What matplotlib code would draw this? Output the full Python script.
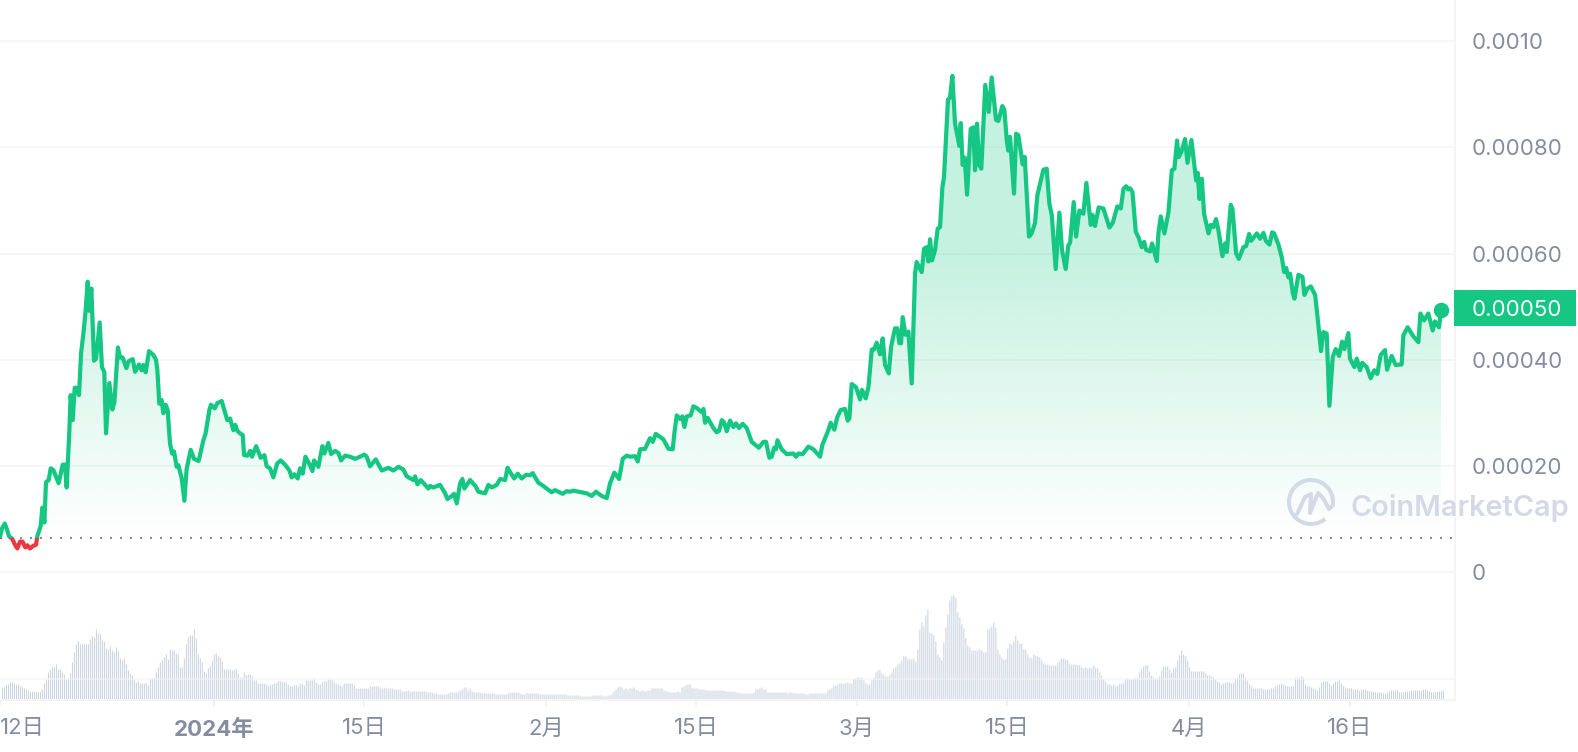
import numpy as np
import matplotlib
matplotlib.use('Agg')
import matplotlib.pyplot as plt
from matplotlib.patches import Arc, Rectangle, Polygon

# days counted from 12 Dec 2023, price in units of 1e-5
price_day = [
    0.09, .28, .53, .71, .93, 1.21, 1.49, 1.71, 1.96, 2.19, 2.45, 2.64, 2.89, 3.19, 3.45, 3.57, 3.89, 4.04, 4.23, 4.38,
    4.63, 4.82, 5.07, 5.56, 5.94, 6.15, 6.31, 6.56, 6.68, 6.87, 7.06, 7.24, 7.46, 7.65, 7.87, 8.08, 8.27, 8.42, 8.61, 8.86,
    9.05, 9.39, 9.6, 9.82, 9.98, 10.29, 10.57, 10.76, 11.09, 11.29, 11.53, 11.88, 12.09, 12.47, 12.69, 13.06, 13.29, 13.46, 13.68, 13.99,
    14.39, 14.64, 14.77, 14.95, 15.17, 15.33, 15.54, 15.73, 15.95, 16.14, 16.32, 16.57, 16.73, 17.04, 17.29, 17.5, 17.88, 18.19, 18.62, 19.06,
    19.27, 19.62, 19.77, 20.12, 20.36, 20.77, 21.29, 21.55, 21.86, 22.04, 22.23, 22.48,
    22.73, 22.86, 23.17, 23.42, 23.6, 23.98, 24.41, 24.75, 24.97, 25.28, 25.59, 25.94, 26.28, 26.68, 27.09, 27.3, 27.55, 27.86, 28.08, 28.33,
    28.58, 29.01, 29.23, 29.39, 29.79, 30.16, 30.35, 30.72, 30.97, 31.35, 31.66, 31.91, 32.28, 32.75, 33.21, 33.68, 34.08, 34.3, 34.61, 35.14,
    35.7, 36.32, 36.79, 37.26, 37.72, 38.03, 38.66, 38.81, 39.03, 39.34, 39.74, 40.05, 40.21, 40.52, 41.14, 41.61, 41.83, 42.23, 42.45, 42.7,
    43.01, 43.23, 43.41, 43.94, 44.47, 44.72, 45.34, 45.65, 45.96, 46.43, 46.74, 47.21, 47.43, 48.05, 48.39, 48.76, 49.17, 49.54,
    49.78, 50.31, 50.62, 51.55, 51.87, 52.58, 52.95, 53.27, 53.58, 54.35, 54.82, 55.29, 55.69, 56.22, 56.69, 57, 57.4, 57.84, 58.18, 58.55,
    58.86, 59.33, 59.58, 59.8, 60.26, 60.73, 60.98, 61.26, 61.97, 62.44, 62.84, 63, 63.22, 63.53, 63.75, 63.93, 64.15, 64.52, 64.77, 65.08,
    65.55, 65.71, 65.86, 66.11, 66.64, 66.95, 67.17, 67.42, 67.63, 67.88, 68.19, 68.5, 68.75, 69.03, 69.37, 69.75, 70.21, 70.87, 71.3, 71.55,
    71.86, 72.08, 72.3, 72.48, 72.61, 73.01, 73.48, 74.1, 74.35, 74.57, 74.97, 75.5, 75.97, 76.59, 76.8,
    77.36, 77.58, 77.92, 78.2, 78.51, 78.92, 79.17, 79.32, 79.54, 79.94, 80.32, 80.5, 80.85, 81.1, 81.41, 81.62, 81.87, 82.18, 82.43, 82.65,
    83, 83.21, 83.58, 83.8, 83.99, 84.14, 84.3, 84.55, 84.83, 85.14, 85.45, 85.6,
    86.07, 86.29, 86.53, 86.69, 86.85, 87.03, 87.31, 87.56, 87.78, 88, 88.15, 88.52, 88.71, 88.93, 89.18, 89.58, 89.71, 89.89, 90.08, 90.3,
    90.64, 90.89, 91.04, 91.23, 91.42, 91.63, 92, 92.32, 92.6, 93, 93.22, 93.59, 93.78, 94, 94.15, 94.31, 94.68, 94.87, 95.09, 95.49,
    95.68, 96.08, 96.33, 96.64, 96.86, 97.42, 97.73, 97.98, 98.2, 98.57, 98.91, 99.16, 99.5, 99.75, 99.91, 100.25, 100.47, 100.78, 101.15, 101.43,
    101.84, 101.99, 102.24, 102.58, 103.02, 103.58, 103.89, 104.32,
    104.64, 104.89, 105.14, 105.32, 105.51, 105.73, 106.04, 106.29, 106.6, 106.82, 107, 107.38, 107.56, 108, 108.15, 108.37, 108.71, 109.09, 109.4, 109.64,
    109.89, 110.05, 110.3, 110.64, 110.86, 111.23, 111.57, 111.67, 111.82, 111.98, 112.2, 112.41, 112.82, 113.03, 113.28, 113.53, 113.75, 114.12, 114.37, 114.53,
    114.9, 115.06, 115.4, 115.65, 116.08, 116.33, 116.61, 116.8, 117.33, 117.64, 117.95, 118.17, 118.51, 118.76, 118.94, 119.35, 119.66, 119.88, 120.06, 120.28,
    120.44, 120.69, 120.84, 121.21, 121.59, 121.77, 122.05, 122.37, 122.77, 122.99,
    123.32, 123.54, 123.85, 124.1, 124.41, 124.69, 125, 125.28, 125.5, 125.87, 126.02, 126.43, 126.65, 126.96, 127.17, 127.58, 127.95, 128.29, 128.57, 128.88,
    129.29, 129.48, 129.91, 130.28, 130.84, 131, 131.4, 131.93, 132.4, 132.59, 132.93, 133.33, 133.74, 133.95, 134.33, 134.51,
]
price_e5 = [
    6.6, 8.2, 9.1, 8.2, 6.7, 6.3, 5.1, 4.4, 5.7, 5.7, 4.6, 5.0, 4.4, 4.9, 5.1, 6.7, 8.7, 12.1, 9.3, 16.9,
    17.3, 19.5, 19.2, 16.7, 20.2, 20.2, 15.9, 26.7, 33.3, 28.6, 34.7, 34.7, 33.3, 41.2, 44.9, 49.3, 54.7, 49.2, 53.4, 39.8,
    40.2, 47.0, 38.6, 37.7, 26.1, 35.6, 30.6, 32.0, 42.3, 40.4, 40.4, 38.4, 39.7, 40.1, 37.7, 39.1, 38.0, 39.0, 37.6, 41.6,
    40.9, 40.0, 38.0, 31.7, 32.4, 29.9, 31.5, 30.5, 24.2, 22.3, 22.7, 19.8, 20.1, 17.6, 13.4, 19.4, 23.0, 21.3, 20.9, 24.8,
    26.1, 30.5, 31.5, 30.8, 31.8, 32.2, 28.6, 28.9, 26.7, 27.7, 26.6, 26.1,
    25.8, 22.0, 21.9, 22.8, 21.7, 23.7, 21.5, 22.0, 19.9, 19.5, 17.8, 20.4, 21.0, 20.2, 19.1, 17.8, 18.4, 17.6, 19.5, 18.5,
    21.7, 20.1, 19.0, 21.0, 19.8, 23.7, 22.3, 24.3, 22.2, 22.8, 22.4, 21.0, 21.9, 21.7, 21.3, 21.7, 22.1, 21.7, 19.9, 21.2,
    19.1, 19.6, 19.1, 19.8, 19.3, 18.0, 17.3, 18.0, 16.5, 17.3, 16.4, 15.7, 16.2, 15.9, 16.4, 14.8, 13.7, 14.3, 14.7, 12.9,
    16.7, 17.5, 15.7, 17.3, 16.1, 15.1, 14.8, 16.4, 15.9, 16.4, 17.5, 17.3, 19.6, 17.6, 18.5, 17.6, 18.3, 18.2,
    18.6, 16.8, 16.4, 15.0, 15.4, 14.7, 15.2, 15.1, 15.3, 15.0, 14.8, 14.3, 15.1, 14.3, 13.9, 16.7, 18.7, 17.5, 21.3, 21.9,
    21.7, 21.8, 20.8, 23.1, 23.2, 25.2, 24.5, 26.0, 25.0, 23.2, 23.1, 26.2, 29.5, 28.8, 29.3, 27.3, 29.3, 29.5, 31.2, 30.9,
    30.1, 30.7, 28.1, 29.0, 27.1, 26.3, 26.6, 28.6, 28.2, 26.5, 28.5, 27.3, 28.0, 27.1, 27.9, 27.1, 24.5, 23.4, 24.5, 24.5,
    21.5, 21.7, 23.4, 23.1, 24.8, 23.1, 22.2, 22.3, 21.7, 22.3, 22.2, 23.6, 23.1, 21.7, 23.9,
    26.7, 28.1, 26.8, 29.2, 30.5, 30.7, 28.5, 28.9, 35.4, 34.8, 32.5, 34.3, 32.7, 34.8, 41.9, 41.9, 43.2, 41.0, 44.0, 39.0,
    37.4, 42.4, 45.9, 45.9, 43.1, 43.1, 48.0, 44.7, 45.3, 35.5, 56.3, 58.4,
    56.5, 60.9, 61.2, 58.5, 62.7, 58.7, 60.6, 64.7, 65.0, 72.5, 74.4, 89.0, 89.4, 93.5, 84.5, 80.3, 84.6, 76.7, 78.1, 71.1,
    83.5, 83.8, 75.7, 84.5, 76.7, 76.0, 91.8, 86.7, 93.2, 85.2, 85.0, 87.8, 87.1, 81.4, 79.4, 82.0, 71.3, 82.6, 82.3, 76.8,
    78.2, 63.2, 63.8, 65.8, 71.0, 75.8, 76.0, 69.4, 67.3, 57.1, 67.7, 60.6, 57.1, 61.6, 62.0, 69.7, 63.2, 68.1, 67.5, 73.3,
    65.4, 67.3, 65.2, 68.7, 68.5, 64.9, 65.8, 68.9,
    68.5, 72.2, 72.7, 72.1, 72.3, 71.6, 64.1, 63.1, 61.2, 62.2, 60.7, 60.4, 61.9, 58.6, 63.8, 67.0, 63.8, 67.8, 75.7, 76.0,
    81.3, 78.2, 79.2, 81.6, 77.1, 81.4, 75.4, 73.8, 75.2, 70.3, 74.1, 67.5, 63.8, 65.4, 65.0, 66.5, 64.4, 59.5, 61.9, 60.3,
    69.2, 68.4, 60.0, 59.0, 61.2, 61.4, 63.7, 62.4, 63.8, 62.8, 63.9, 62.4, 61.7, 64.0, 63.8, 61.7, 59.3, 56.5, 57.3, 55.5,
    56.2, 52.5, 51.5, 56.0, 55.6, 52.2, 53.4, 53.8, 52.2, 48.1,
    41.6, 45.2, 44.9, 31.3, 40.5, 42.0, 40.7, 43.4, 42.0, 45.0, 40.2, 38.6, 40.2, 38.0, 39.4, 38.6, 36.5, 38.0, 37.3, 40.9,
    41.8, 38.1, 40.7, 39.0, 39.1, 44.6, 46.1, 44.4, 43.3, 48.7, 47.4, 48.7, 45.5, 47.2, 46.1, 49.3,
]

# volume in arbitrary units, one bar every few hours
vol_part1 = [
    12, 12, 14, 15, 17, 17, 16, 15, 15, 13, 12, 11, 10, 9, 8, 8, 8, 7, 7, 8, 10, 16, 20, 27, 30, 32, 32, 35, 30, 30, 27, 25, 20, 21, 26, 37, 47, 55, 58, 55,
    56, 55, 55, 55, 60, 63, 62, 70, 66, 65, 59, 58, 51, 50, 53, 49, 47, 52, 48, 41, 39, 41, 35, 29, 26, 24, 19, 17, 18, 16, 16, 16, 16, 14, 21, 21, 22, 27, 32, 37,
    39, 42, 45, 40, 50, 49, 49, 46, 45, 32, 32, 41, 55, 62, 64, 64, 70, 61, 45, 41, 37, 28, 26, 31, 33, 38, 45, 46, 43, 42, 38, 30, 30, 30, 30, 29, 30, 30, 26, 22,
    22, 27, 24, 25, 25, 23, 19, 19, 16, 16, 16, 16, 15, 14, 14, 15, 16, 16, 18, 18, 18, 17, 17, 15, 13, 13, 14, 14, 13, 16, 15, 14, 19, 19, 19, 19, 21, 17, 15, 15,
    17, 18, 18, 20, 20, 19, 17, 16, 15, 14, 13, 16, 16, 16, 16, 16, 14, 11, 11, 11, 11, 11, 11, 11, 13, 13, 13, 13, 13, 12, 11, 12, 11, 11, 11, 11, 10, 10, 10, 10,
    8, 8, 8, 9, 8, 8, 8, 8, 8, 8, 8, 8, 8, 7, 7, 7, 6, 6, 5, 5, 5, 5, 5, 6, 7, 7, 7, 7, 8, 9, 10, 12, 12, 9, 11, 8, 7, 7, 7, 7,
]
vol_part2 = [
    6, 6, 6, 6, 6, 6, 6, 5, 5, 5, 5, 5, 5, 6, 7, 7, 7, 7, 7, 6, 5, 5, 6, 6, 6, 6, 6, 6, 6, 5, 5, 5, 5, 5, 5, 5, 5, 5, 5, 5,
    5, 5, 5, 4, 4, 4, 4, 4, 4, 4, 3, 3, 3, 3, 3, 4, 4, 4, 4, 4, 4, 3, 3, 4, 4, 5, 8, 10, 12, 13, 12, 10, 11, 10, 11, 11, 12, 10, 9, 8,
    9, 8, 8, 9, 9, 11, 11, 11, 11, 11, 11, 9, 8, 8, 7, 7, 7, 7, 8, 7, 12, 13, 14, 15, 15, 12, 11, 11, 11, 10, 10, 10, 9, 9, 9, 9, 9, 9, 9, 9,
    9, 9, 8, 8, 8, 8, 8, 7, 7, 6, 6, 6, 6, 6, 6, 6, 7, 10, 10, 11, 12, 10, 10, 7, 7, 7, 7, 7, 7, 7, 7, 7, 7, 6, 7, 7, 6, 6, 6, 6,
    6, 6, 5, 5, 6, 6, 6, 6, 6, 6, 6, 6, 6, 9, 10, 11, 14, 14, 15, 16, 16, 16, 16, 17, 16, 16, 20, 21, 22, 22, 22, 19, 16, 15, 15, 19, 22, 27, 29, 30,
    26, 25, 23, 23, 25, 27, 31, 32, 35, 36, 39, 43, 43, 41, 40, 40, 41, 38, 50, 70, 77, 73, 84, 90, 67, 66, 64, 58, 45, 42, 39, 57, 72, 85, 99, 103, 104, 102, 87, 82, 75,
]
vol_part3 = [
    71, 61, 54, 52, 49, 49, 49, 49, 50, 49, 47, 47, 70, 71, 73, 77, 72, 50, 45, 42, 40, 40, 51, 56, 55, 58, 64, 59, 56, 56, 50, 50, 45, 42, 41, 45, 44, 43, 42, 39,
    36, 35, 35, 34, 34, 34, 34, 37, 39, 41, 41, 40, 39, 36, 35, 35, 35, 34, 34, 32,
]
vol_part4 = [
    31, 32, 31, 32, 31, 34, 32, 31, 27, 24, 20, 18, 15, 15, 14, 15, 13, 14, 16, 16, 17, 21, 21, 20, 20, 21, 21, 22, 27, 30, 33, 34, 34, 28, 24, 22, 21, 21, 23, 29,
    33, 33, 33, 30, 27, 31, 32, 39, 44, 49, 45, 43, 39, 32, 28, 28, 28, 28, 28, 28, 28, 26, 24, 24, 23, 22, 20, 18, 17, 15, 16, 17, 17, 17, 16, 17, 21, 22, 25, 26,
    26, 22, 19, 15, 13, 11, 11, 11, 11, 11, 10, 10, 10, 10, 11, 11, 13, 14, 15, 16, 14, 14, 13, 13, 13, 13, 21, 22, 22, 23, 22, 15, 13, 13, 12, 11, 10, 9, 12, 17,
    18, 18, 18, 16, 14, 16, 18, 18, 19, 16, 13, 12, 11, 11, 11, 10, 10, 10, 9, 10, 10, 10, 9, 8, 8, 8, 7, 7, 7, 7, 6, 6, 7, 8, 9, 9, 9, 9, 7, 7,
    7, 8, 8, 8, 9, 9, 9, 9, 9, 9, 10, 10, 9, 8, 7, 7, 7, 8, 8, 8, 9,
]
volume = vol_part1 + vol_part2 + vol_part3 + vol_part4

tick_days = [0, 20, 34, 51, 65, 80, 94, 111, 126]
tick_labels = ['12日', '2024年', '15日', '2月', '15日', '3月', '15日', '4月', '16日']
y_ticks = [0, 0.0002, 0.0004, 0.0006, 0.0008, 0.0010]
y_labels = ['0', '0.00020', '0.00040', '0.00060', '0.00080', '0.0010']
base_price = 0.000064
last_label = '0.00050'

GREEN = '#16C784'
RED = '#EA3943'
GREY = '#858CA2'
GRID = '#F3F4F6'
FONT = ['Inter', 'Noto Sans CJK JP', 'DejaVu Sans']
W, H = 1578, 752
px = 0.72  # points per pixel at dpi 100
day_px = 10.72  # pixels per day

plt.rcParams['font.family'] = FONT


def make_axes(fig, x0, y0, x1, y1):
    return fig.add_axes([x0 / W, 1 - y1 / H, (x1 - x0) / W, (y1 - y0) / H])


fig = plt.figure(figsize=(W / 100, H / 100), dpi=100, facecolor='white')
ax = make_axes(fig, 0, 0, 1455, 575)
ax_vol = make_axes(fig, 0, 575, 1455, 699.5)

price = np.array(price_e5) * 1e-5
days = np.array(price_day)
xlim = (0.09, 0.09 + 1455 / day_px)

# gradient fill below the line, down to the dotted start price
levels = np.linspace(base_price, price.max(), 300)
alpha = np.clip((levels - base_price) / (0.000606 - base_price), 0, 1) * 0.25
rgba = np.zeros((300, 1, 4))
rgba[..., :3] = matplotlib.colors.to_rgb(GREEN)
rgba[:, 0, 3] = alpha
img = ax.imshow(rgba, origin='lower', aspect='auto', interpolation='bilinear',
                extent=(days[0], days[-1], base_price, price.max()), zorder=1)
poly = Polygon(np.column_stack([np.r_[days[0], days, days[-1]],
                                np.r_[base_price, np.maximum(price, base_price), base_price]]),
               transform=ax.transData, facecolor='none', edgecolor='none')
ax.add_patch(poly)
img.set_clip_path(poly)

# line is green above the start price and red below it
green_line, = ax.plot(days, price, color=GREEN, lw=4.2 * px, zorder=4, solid_joinstyle='round')
red_line, = ax.plot(days, price, color=RED, lw=4.2 * px, zorder=4, solid_joinstyle='round')
green_line.set_clip_path(Rectangle((xlim[0], base_price), xlim[1] - xlim[0], 0.002, transform=ax.transData))
red_line.set_clip_path(Rectangle((xlim[0], -0.001), xlim[1] - xlim[0], 0.001 + base_price, transform=ax.transData))

ax.plot(days[-1], price[-1], 'o', color=GREEN, ms=15.5 * px, mew=0, zorder=5)
ax.axhline(base_price, color='#868C9F', lw=2 * px, dashes=(1, 4), zorder=3)

ax.set_xlim(xlim)
ax.set_ylim(-0.6e-5, 107.8e-5)
ax.set_xticks([])
ax.yaxis.tick_right()
ax.set_yticks(y_ticks)
ax.set_yticklabels(y_labels, fontsize=16, color=GREY)
ax.tick_params(axis='y', length=0, pad=17 * px)
ax.grid(axis='y', color=GRID, lw=1.6 * px)
ax.set_axisbelow(True)
for name, spine in ax.spines.items():
    spine.set_visible(name == 'right')
    spine.set_color(GRID)
    spine.set_linewidth(2 * px)

# volume bars, two pixels apart
bar_days = 0.09 + (1.5 + 2 * np.arange(len(volume))) / day_px
bars = ax_vol.bar(bar_days, volume, width=1.0 / day_px, color='#C9D1DE', linewidth=0, zorder=2)
for bar in bars:
    bar.set_snap(False)
ax_vol.set_xlim(xlim)
ax_vol.set_ylim(0, 124.5)
ax_vol.set_yticks([21])
ax_vol.set_yticklabels([])
ax_vol.tick_params(axis='y', length=0)
ax_vol.grid(axis='y', color=GRID, lw=1.6 * px, alpha=0.7, zorder=3)
ax_vol.set_axisbelow(False)
ax_vol.set_xticks(tick_days)
ax_vol.set_xticklabels(tick_labels, fontsize=16, color=GREY)
ax_vol.tick_params(axis='x', length=6 * px, width=1.5 * px, color='#EDEFF3', pad=13 * px)
labels = ax_vol.get_xticklabels()
labels[0].set_horizontalalignment('left')
labels[1].set_fontweight('bold')
for name, spine in ax_vol.spines.items():
    spine.set_visible(name in ('right', 'bottom'))
    spine.set_color(GRID)
    spine.set_linewidth(2 * px)

# overlay in pixels for the price tag and the watermark
over = fig.add_axes([0, 0, 1, 1], facecolor='none')
over.set_xlim(0, W)
over.set_ylim(H, 0)
over.axis('off')
over.add_patch(Rectangle((1454, 290), 122, 36, color=GREEN, lw=0))
over.text(1472, 308, last_label, color='white', fontsize=16, va='center_baseline', ha='left')

MARK = '#D3D9E6'
over.add_patch(Arc((1311, 502), 44, 44, theta1=50, theta2=365, color=MARK, lw=4 * px))
over.plot([1297, 1305, 1311, 1310, 1318, 1323, 1329, 1333],
          [514, 497, 494, 513, 493, 498, 509, 505],
          color=MARK, lw=4 * px, solid_joinstyle='round', solid_capstyle='round')
over.text(1351, 505, 'CoinMarketCap', color=MARK, fontsize=20.8, fontweight='semibold',
          va='center_baseline', ha='left')

fig.savefig('out.png', dpi=100)
